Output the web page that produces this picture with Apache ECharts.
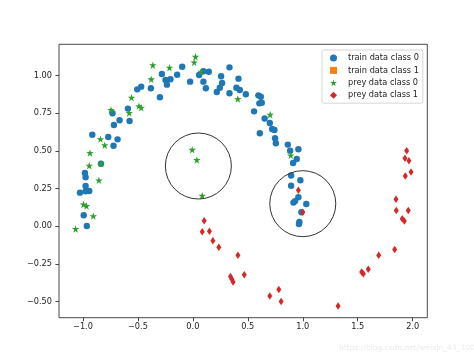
<!DOCTYPE html>
<html>
<head>
<meta charset="utf-8">
<script src="https://cdn.jsdelivr.net/npm/echarts@6/dist/echarts.min.js"></script>
<style>
html,body{margin:0;padding:0;background:#fff;}
#chart{width:474px;height:358px;}
</style>
</head>
<body>
<div id="chart"></div>
<script>
// ---- data ----
const trainClass0 = [
  [-0.097,1.059],[-0.282,1.011],[-0.143,1.006],[-0.249,0.971],[-0.204,0.976],[-0.236,0.940],
  [-0.025,0.960],[-0.470,0.927],[-0.506,0.909],[-0.382,0.916],[-0.300,0.856],[-0.591,0.781],
  [-0.731,0.750],[-0.667,0.704],[-0.576,0.699],[-0.718,0.672],[-0.915,0.608],[-0.770,0.593],
  [-0.685,0.577],[-0.722,0.535],[-0.836,0.415],[-0.982,0.354],[-0.976,0.325],[-0.976,0.267],
  [-1.027,0.223],[-0.976,0.232],[-0.943,0.234],[-0.993,0.073],[-0.965,0.002],
  [0.057,1.004],[0.096,1.029],[0.145,1.026],[0.096,0.960],[0.118,0.916],[0.333,1.055],
  [0.257,0.996],[0.266,0.951],[0.245,0.920],[0.218,0.891],[0.333,0.883],[0.415,0.980],
  [0.396,0.920],[0.427,0.905],[0.482,0.876],[0.596,0.869],[0.618,0.860],[0.605,0.816],
  [0.627,0.820],[0.557,0.763],[0.653,0.715],[0.700,0.686],[0.721,0.646],[0.742,0.639],
  [0.609,0.617],[0.748,0.585],[0.755,0.551],[0.864,0.542],[0.960,0.511],[0.885,0.502],
  [0.945,0.447],[0.912,0.420],[0.894,0.337],[0.978,0.305],[0.894,0.269],[0.960,0.193],
  [0.930,0.167],[0.915,0.157],[1.032,0.148],[0.987,0.093],[0.969,0.029],[0.965,0.015]
];
const trainClass1 = [];
const preyClass0 = [
  [-0.364,1.069],[-0.213,1.053],[-0.379,0.976],[-0.558,0.854],[-0.491,0.798],[-0.470,0.787],
  [-0.745,0.772],[-0.579,0.752],[-0.841,0.579],[-0.802,0.538],[-0.936,0.487],[-0.943,0.402],
  [-0.836,0.415],[-0.855,0.305],[-0.995,0.145],[-0.968,0.135],[-0.906,0.068],[-1.067,-0.018],
  [0.024,1.126],[0.012,1.088],[0.075,1.026],[0.409,0.845],[0.703,0.741],[0.891,0.471],
  [-0.006,0.508],[0.036,0.440],[0.085,0.203]
];
const preyClass1 = [
  [0.103,0.037],[0.085,-0.036],[0.151,-0.033],[0.182,-0.096],[0.236,-0.139],[0.410,-0.192],
  [0.342,-0.333],[0.355,-0.352],[0.366,-0.370],[0.468,-0.322],[0.700,-0.463],[0.782,-0.419],
  [0.803,-0.499],[1.321,-0.529],[1.536,-0.303],[1.551,-0.315],[1.596,-0.285],[1.691,-0.192],
  [1.836,-0.155],[1.848,0.179],[1.851,0.104],[1.960,0.104],[1.905,0.050],[1.924,0.035],
  [1.933,0.334],[1.985,0.360],[1.945,0.502],[1.930,0.451],[1.966,0.435],[0.960,0.239],[1.000,0.093]
];
const circleCenters = [[0.05,0.40],[1.00,0.15]];
const seriesNames = ['train data class 0','train data class 1','prey data class 0','prey data class 1'];
const xTicks = [-1.0,-0.5,0.0,0.5,1.0,1.5,2.0];
const yTicks = [-0.5,-0.25,0.0,0.25,0.5,0.75,1.0];
const xRange = [-1.218, 2.133];
const yRange = [-0.607, 1.208];

// ---- styling helpers ----
function starPath(){
  const pts=[];
  for(let i=0;i<10;i++){
    const r = (i%2===0)?1:0.382;
    const a = -Math.PI/2 + i*Math.PI/5;
    pts.push((r*Math.cos(a)).toFixed(3)+','+(r*Math.sin(a)).toFixed(3));
  }
  return 'path://M'+pts.join('L')+'Z';
}
const STAR = starPath();
const fmt = (v,d)=> (v<0?'\u2212':'') + Math.abs(v).toFixed(d);
const FONT = 'DejaVu Sans';
const TXT = '#222';

const chart = echarts.init(document.getElementById('chart'), null, {renderer:'canvas'});
chart.setOption({
  animation:false,
  backgroundColor:'#fff',
  grid:{left:59,right:46.7,top:44.3,bottom:40.3,show:true,borderColor:'#333',borderWidth:0.9,backgroundColor:'transparent'},
  xAxis:{
    type:'value',min:xRange[0],max:xRange[1],position:'bottom',
    axisLine:{show:false,onZero:false},
    splitLine:{show:false},
    axisTick:{show:true,inside:false,length:3.6,customValues:xTicks,lineStyle:{color:'#333',width:0.9}},
    axisLabel:{customValues:xTicks,margin:5,fontFamily:FONT,fontSize:8.2,color:TXT,formatter:v=>fmt(v,1)}
  },
  yAxis:{
    type:'value',min:yRange[0],max:yRange[1],position:'left',
    axisLine:{show:false,onZero:false},
    splitLine:{show:false},
    axisTick:{show:true,inside:false,length:3.6,customValues:yTicks,lineStyle:{color:'#333',width:0.9}},
    axisLabel:{customValues:yTicks,margin:7,fontFamily:FONT,fontSize:8.2,color:TXT,formatter:v=>fmt(v,2)}
  },
  legend:{
    data:seriesNames,
    orient:'vertical',
    left:322,top:50,
    padding:[3,4,3,8],
    itemWidth:7,itemHeight:7,itemGap:2.4,
    borderColor:'#ccc',borderWidth:0.8,borderRadius:2,
    backgroundColor:'rgba(255,255,255,0.8)',
    textStyle:{fontFamily:FONT,fontSize:8.2,color:TXT,lineHeight:10,padding:[0,0,0,6]},
    selectedMode:false
  },
  series:[
    {name:seriesNames[0],type:'scatter',data:trainClass0,symbol:'circle',symbolSize:6.4,itemStyle:{color:'#1f77b4',opacity:1},z:2},
    {name:seriesNames[1],type:'scatter',data:trainClass1,symbol:'rect',symbolSize:6,itemStyle:{color:'#ff7f0e',opacity:1},z:3},
    {name:seriesNames[2],type:'scatter',data:preyClass0,symbol:STAR,symbolSize:7.5,itemStyle:{color:'#2ca02c',opacity:1},z:4},
    {name:seriesNames[3],type:'scatter',data:preyClass1,symbol:'diamond',symbolSize:[5,7.5],itemStyle:{color:'#d62728',opacity:1},z:5},
    {name:'circles',type:'scatter',data:circleCenters,symbol:'circle',symbolSize:66,silent:true,
     itemStyle:{color:'rgba(0,0,0,0)',borderColor:'#333',borderWidth:1,opacity:1},z:6}
  ],
  graphic:[
    {type:'text',left:339,top:344,silent:true,
     style:{text:'https://blog.csdn.net/weixin_43_10096',fill:'#ebebeb',font:'7.5px "DejaVu Sans"'}}
  ]
});
</script>
</body>
</html>
